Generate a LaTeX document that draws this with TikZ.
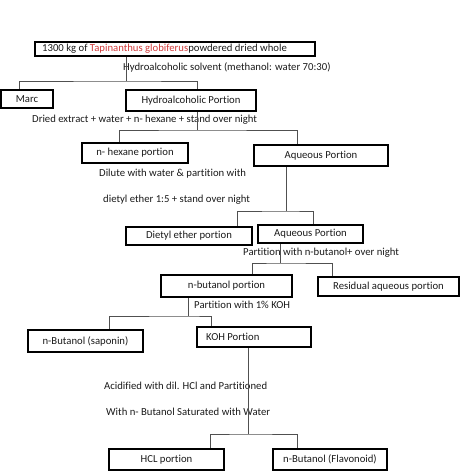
\documentclass[tikz,border=0pt]{standalone}
\usepackage{fontspec}
\setmainfont[Ligatures=NoCommon]{Carlito}
\definecolor{txt}{HTML}{1A1A1A}
\definecolor{lin}{HTML}{505050}
\definecolor{redtx}{HTML}{D03A3A}
\begin{document}
\begin{tikzpicture}[x=1pt,y=-1pt,
  box/.style={draw=black,line width=2.2pt,inner sep=0pt,font=\fontsize{10.7}{12}\selectfont,text=txt},
  lbl/.style={anchor=west,inner sep=0pt,font=\fontsize{10.7}{12}\selectfont,text=txt},
  conn/.style={draw=lin,line width=1pt}]
\useasboundingbox (0,0) rectangle (474,474);
\newcommand{\bx}[6]{\node[box,minimum width=#4-#2,minimum height=#5-#3] (#1) at ({(#2+#4)/2},{(#3+#5)/2}) {#6};}
\bx{top}{35}{42}{315}{56}{}
\node[lbl] (toptxt) at (42,49) {1300 kg of \textcolor{redtx}{Tapinanthus globiferus}powdered dried whole};
\bx{marc}{1}{90}{53}{108}{Marc}
\bx{hydro}{126}{90}{256}{111}{Hydroalcoholic Portion}
\bx{hex}{82}{143}{188}{163}{n- hexane portion}
\bx{aq1}{254}{145}{388}{166}{Aqueous Portion}
\bx{die}{126}{227}{252}{245}{Dietyl ether portion}
\bx{aq2}{258}{225}{363}{243}{Aqueous Portion}
\bx{nbut}{161}{275}{292}{297}{n-butanol portion}
\bx{res}{318}{277}{459}{296}{Residual aqueous portion}
\bx{sap}{28}{330}{143}{352}{n-Butanol (saponin)}
\bx{koh}{197}{327}{311}{347}{}
\node[lbl] (kohtxt) at (206,337) {KOH Portion};
\bx{hcl}{109}{449}{224}{470}{HCL portion}
\bx{flav}{273}{449}{387}{470}{n-Butanol (Flavonoid)}
% labels
\node[lbl] (l1) at (123,67) {Hydroalcoholic solvent (methanol: water 70:30)};
\node[lbl] (l2) at (32,120) {Dried extract + water + n- hexane + stand over night};
\node[lbl] (l3) at (99,174) {Dilute with water \& partition with};
\node[lbl] (l4) at (103,200) {dietyl ether 1:5 + stand over night};
\node[lbl] (l5) at (243,253) {Partition with n-butanol+ over night};
\node[lbl] (l6) at (194,305) {Partition with 1\% KOH};
\node[lbl] (l7) at (104,386) {Acidified with dil. HCl and Partitioned};
\node[lbl] (l8) at (106,412) {With n- Butanol Saturated with Water};
% junctions
\coordinate (j1) at (126,81);
\coordinate (j2) at (197,130);
\coordinate (j3) at (286,211);
\coordinate (j4) at (280,263);
\coordinate (j5) at (188,316);
\coordinate (j6) at (248,434);
\draw[conn] (top.south -| j1) -- (j1);
\draw[conn] (marc.north -| 19,0) |- (j1) -| (hydro.north -| 197,0);
\draw[conn] (hydro.south -| j2) -- (j2);
\draw[conn] (hex.north -| 119,0) |- (j2) -| (aq1.north -| 297,0);
\draw[conn] (aq1.south -| j3) -- (j3);
\draw[conn] (die.north -| 237,0) |- (j3) -| (aq2.north -| 313,0);
\draw[conn] (aq2.south -| j4) -- (j4);
\draw[conn] (nbut.north -| 252,0) |- (j4) -| (res.north -| 332,0);
\draw[conn] (nbut.south -| j5) -- (j5);
\draw[conn] (sap.north -| 109,0) |- (j5) -| (koh.north -| 211,0);
\draw[conn] (koh.south -| j6) -- (j6);
\draw[conn] (hcl.north -| 210,0) |- (j6) -| (flav.north -| 297,0);
\end{tikzpicture}
\end{document}
